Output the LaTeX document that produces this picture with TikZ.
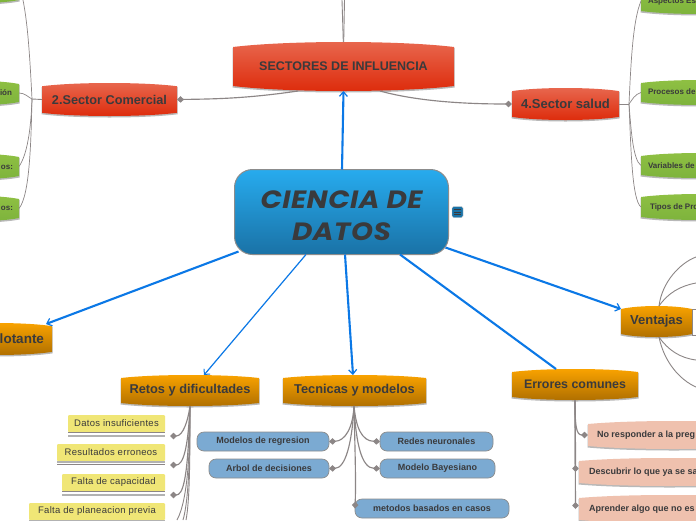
\documentclass[tikz,border=0pt]{standalone}
\usepackage{fontspec}
\setmainfont{Liberation Sans}
\newfontfamily\titlefont[FakeStretch=1.12,LetterSpace=2]{Poppins}
\usetikzlibrary{arrows.meta,calc}
\definecolor{linegray}{HTML}{8C8686}
\definecolor{inkgray}{HTML}{3A3A3C}
\definecolor{arrowblue}{HTML}{0B78E6}
\definecolor{pillblue}{HTML}{7BAAD2}
\definecolor{yellowfill}{HTML}{F0E676}
\definecolor{pinkfill}{HTML}{EFC1AE}
\definecolor{redT}{HTML}{E8684F}
\definecolor{redB}{HTML}{DD2A0A}
\definecolor{grnT}{HTML}{8FC043}
\definecolor{grnB}{HTML}{7DB33C}
\definecolor{orgT}{HTML}{FBA400}
\definecolor{orgB}{HTML}{AE6E00}
\definecolor{cenT}{HTML}{27ABEE}
\definecolor{cenB}{HTML}{1A72A6}
\tikzset{
  lbl/.style={inner sep=0pt,outer sep=0pt,text=inkgray,align=center},
  conn/.style={draw=linegray,line width=0.9pt},
  thin conn/.style={draw=linegray,line width=0.7pt},
  heavy conn/.style={draw=linegray,line width=1.15pt},
  main arrow/.style={draw=arrowblue,line width=2.1pt,-{Straight Barb[length=4.5pt,width=8pt,line width=1.2pt]}},
  dotend/.style={-{Diamond[length=7pt,width=6.5pt,fill=linegray]}}
}
% banner: name, x1,y1,x2,y2, top colour, bottom colour, fontsize, text
\newcommand{\banner}[9]{%
  \pgfmathsetmacro\bd{3+max(0,(#5-#3-31)/9)}%
  \pgfmathsetmacro\bc{\bd*4/3}%
  \pgfmathsetmacro\ba{#2+0.25*(#4-#2)}%
  \pgfmathsetmacro\bb{#4-0.25*(#4-#2)}%
  \fill[black!28] (#2-.5,#3+\bd+1) .. controls (\ba,#3+\bd-\bc+1) and (\bb,#3+\bd-\bc+1) .. (#4+.5,#3+\bd+1) -- (#4+.5,#5-\bd+1.5)
     .. controls (\bb,#5-\bd+\bc+1.5) and (\ba,#5-\bd+\bc+1.5) .. (#2-.5,#5-\bd+1.5) -- cycle;
  \shade[top color=#6,bottom color=#7] (#2,#3+\bd) .. controls (\ba,#3+\bd-\bc) and (\bb,#3+\bd-\bc) .. (#4,#3+\bd) -- (#4,#5-\bd)
     .. controls (\bb,#5-\bd+\bc) and (\ba,#5-\bd+\bc) .. (#2,#5-\bd) -- cycle;
  \node[lbl,minimum width={(#4-#2)*1pt},minimum height={(#5-#3)*1pt},font=\bfseries\fontsize{#8}{#8}\selectfont] (#1) at ({(#2+#4)/2},{(#3+#5)/2}) {#9};
}
% pill: name,x1,y1,x2,y2,text
\newcommand{\pill}[6]{%
  \node[lbl,draw=black!45,line width=.7pt,fill=pillblue,rounded corners=7pt,minimum width={(#4-#2)*1pt},minimum height={(#5-#3)*1pt},font=\bfseries\fontsize{9}{9}\selectfont] (#1) at ({(#2+#4)/2},{(#3+#5)/2}) {#6};
}
% yellow note: name x1 y1 x2 y2 text order
\newcommand{\yel}[7]{%
  \node[lbl,fill=yellowfill,rounded corners=1pt,minimum width={(#4-#2)*1pt},minimum height={(#5-#3)*1pt},font=\addfontfeature{LetterSpace=3}\fontsize{9.5}{9.5}\selectfont] (#1) at ({(#2+#4)/2},{(#3+#5)/2}) {#6};
  \draw[black!30,line width=1.4pt] (#2,#5+.8+3*#7) -- (#4,#5+.8+3*#7);
  \draw[linegray,line width=.8pt] (#2,#5+3.8-3*#7) -- (#4,#5+3.8-3*#7);
}
\begin{document}
\begin{tikzpicture}[x=1pt,y=-1pt]
\useasboundingbox (0,0) rectangle (696,520);
\clip (0,0) rectangle (696,520);
\fill[white] (0,0) rectangle (696,520);

% --- red sector nodes
\banner{sect}{233}{42}{454}{91}{redT}{redB}{12.5}{SECTORES DE INFLUENCIA}
\banner{com}{42}{83}{177}{116}{redT}{redB}{12.7}{2.Sector Comercial}
\banner{sal}{512}{88}{619}{120}{redT}{redB}{13}{4.Sector salud}

% --- green nodes
\banner{gl0}{-60}{-22}{19}{3}{grnT}{grnB}{8}{}
\banner{gl1}{-60}{81}{19}{105}{grnT}{grnB}{8}{}
\node[lbl,font=\bfseries\fontsize{8}{8}\selectfont,anchor=east] (gl1t) at (12,93) {ión};
\banner{gl2}{-60}{154}{19}{179}{grnT}{grnB}{8}{}
\node[lbl,font=\bfseries\fontsize{8}{8}\selectfont,anchor=east] (gl2t) at (13,167) {os:};
\banner{gl3}{-60}{196}{19}{221}{grnT}{grnB}{8}{}
\node[lbl,font=\bfseries\fontsize{8}{8}\selectfont,anchor=east] (gl3t) at (13,208) {os:};
\banner{gr0}{641}{-12}{760}{14}{grnT}{grnB}{8}{}
\node[lbl,font=\bfseries\fontsize{8}{8}\selectfont,anchor=west] (gr0t) at (648,2) {Aspectos Es};
\banner{gr1}{641}{80}{760}{105}{grnT}{grnB}{8}{}
\node[lbl,font=\bfseries\fontsize{8}{8}\selectfont,anchor=west] (gr1t) at (648,92) {Procesos de};
\banner{gr2}{641}{153}{760}{178}{grnT}{grnB}{8}{}
\node[lbl,font=\bfseries\fontsize{8}{8}\selectfont,anchor=west] (gr2t) at (648,166) {Variables de};
\banner{gr3}{641}{194}{760}{220}{grnT}{grnB}{8}{}
\node[lbl,font=\bfseries\fontsize{8}{8}\selectfont,anchor=west] (gr3t) at (650,207) {Tipos de Pro};

% --- central node
\node[draw=black!45,line width=1pt,rounded corners=18pt,minimum width=214pt,minimum height=85pt,inner sep=0pt,outer sep=0pt,
  top color=cenT,bottom color=cenB] (center) at (341.5,212) {};
\node[lbl,font=\titlefont\bfseries\itshape\fontsize{25}{32}\selectfont] (ctext) at (341.5,216) {CIENCIA DE\\DATOS};
\node[draw=black!20,fill=cenB,rounded corners=1.5pt,minimum size=11pt,inner sep=0pt] (note) at (457.5,212) {};
\draw[inkgray,line width=.8pt] (454,209.5) -- (461,209.5) (454,212) -- (461,212) (454,214.5) -- (461,214.5);

% --- orange nodes
\banner{flot}{-60}{323}{52}{355}{orgT}{orgB}{13.5}{}
\node[lbl,font=\bfseries\fontsize{13.5}{13.5}\selectfont,anchor=east] (flott) at (44,339) {flotante};
\banner{ret}{121}{375}{259}{406}{orgT}{orgB}{12.8}{Retos y dificultades}
\banner{tec}{283}{375}{426}{406}{orgT}{orgB}{12.8}{Tecnicas y modelos}
\banner{err}{512}{369}{638}{400}{orgT}{orgB}{12.4}{Errores comunes}
\banner{ven}{621}{306}{692}{337}{orgT}{orgB}{13}{Ventajas}

% --- blue pills
\pill{m1}{197}{432}{329}{451}{Modelos de regresion}
\pill{m2}{209}{459}{329}{478}{Arbol de decisiones}
\pill{m3}{380}{432}{493}{451}{Redes neuronales}
\pill{m4}{380}{459}{495}{478}{Modelo Bayesiano}
\pill{m5}{355}{499}{509}{518}{metodos basados en casos}

% --- yellow notes
\yel{y1}{68}{415}{165}{432}{Datos insuficientes}{1}
\yel{y2}{57}{444}{165}{461}{Resultados erroneos}{0}
\yel{y3}{62}{474}{165}{491}{Falta de capacidad}{1}
\yel{y4}{29}{503}{165}{520}{Falta de planeacion previa}{0}

% --- pink nodes
\banner{p1}{588}{421}{760}{449}{pinkfill}{pinkfill}{9}{}
\node[lbl,font=\bfseries\fontsize{9}{9}\selectfont,anchor=west] (p1t) at (597,435) {No responder a la preg};
\banner{p2}{579}{458}{760}{486}{pinkfill}{pinkfill}{9}{}
\node[lbl,font=\bfseries\fontsize{9}{9}\selectfont,anchor=west] (p2t) at (589,472) {Descubrir lo que ya se sa};
\banner{p3}{579}{495}{760}{523}{pinkfill}{pinkfill}{9}{}
\node[lbl,font=\bfseries\fontsize{9}{9}\selectfont,anchor=west] (p3t) at (589,509) {Aprender algo que no es};

% --- main arrows
\draw[main arrow] ($(center.north)+(0.5,0)$) -- (sect.south);
\draw[main arrow] ($(center.south west)+(4,-3)$) -- ($(flot.north east)+(-6,1)$);
\draw[draw=arrowblue,line width=1.2pt,-{Straight Barb[length=4pt,width=8pt,line width=1pt]}] ($(center.south)+(-35.5,0)$) -- ($(ret.north)+(14,0)$);
\draw[main arrow] ($(center.south)+(3.5,0)$) -- ($(tec.north)+(-1.5,0)$);
\draw[draw=arrowblue,line width=2.1pt] ($(center.south)+(58.5,0)$) -- ($(err.north)+(-19,0)$);
\draw[main arrow] ($(center.south east)+(-3,-7)$) -- ($(ven.north west)+(0,3)$);

% --- sector connectors
\coordinate (sl) at (298,91); \coordinate (sr) at (380,91);
\draw[heavy conn,dotend] (sl) .. controls (250,98) and (220,99) .. (com.east);
\draw[heavy conn,dotend] (sr) .. controls (420,102) and (470,104) .. (sal.west);
\coordinate (sa) at (342,0); \coordinate (sb) at (344.5,0);
\draw[conn] (sa) -- ($(sect.north)+(-.2,0)$); \draw[conn] (sb) -- ($(sect.north)+(.2,0)$);

% --- left bundle
\coordinate (lj) at (32,99);
\coordinate (ltop) at (23,0);
\draw[conn] (com.west) -- (lj);
\draw[thin conn] (lj) .. controls (30,60) and (28,25) .. (ltop);
\draw[thin conn] (lj) .. controls (28,97) and (25,93) .. (gl1.east);
\draw[thin conn] (lj) .. controls (31,130) and (27,155) .. (gl2.east);
\draw[thin conn] (lj) .. controls (31,140) and (30,195) .. (gl3.east);

% --- right bundle
\coordinate (rj) at (629,104);
\draw[conn] (sal.east) -- (rj);
\draw[thin conn] (rj) .. controls (631,60) and (633,20) .. (gr0.west);
\draw[thin conn] (rj) .. controls (632,100) and (635,94) .. (gr1.west);
\draw[thin conn] (rj) .. controls (631,130) and (633,160) .. (gr2.west);
\draw[thin conn] (rj) .. controls (631,150) and (632,200) .. (gr3.west);

% --- ventajas fans
\coordinate (vt) at (659,306); \coordinate (vb) at (659,337);
\coordinate (v1) at (696,257); \coordinate (v2) at (696,283);
\coordinate (v3) at (696,360); \coordinate (v4) at (696,387);
\coordinate (vr1) at (696,309); \coordinate (vr2) at (696,335);
\draw[conn] (vt) .. controls (662,282) and (680,263) .. (v1);
\draw[conn] (vt) .. controls (668,293) and (680,286) .. (v2);
\draw[conn] (vb) .. controls (668,350) and (680,358) .. (v3);
\draw[conn] (vb) .. controls (664,362) and (680,380) .. (v4);
\draw[conn] (vr1) -- (ven.north east |- vr1) -- (ven.south east |- vr2) -- (vr2);

% --- retos
\coordinate (rt) at ($(ret.south)+(0,0)$);
\coordinate (re1) at (170,436); \coordinate (re2) at (170,465); \coordinate (re3) at (170,495);
\draw[heavy conn,dotend] (rt) .. controls (188,421) and (183,436) .. (re1);
\draw[heavy conn,dotend] (rt) .. controls (188,450) and (183,465) .. (re2);
\draw[heavy conn,dotend] (rt) .. controls (188,480) and (183,495) .. (re3);
\coordinate (re4) at (177,520); \coordinate (re5) at (183,520); \coordinate (re6) at (186,520);
\draw[conn] (rt) .. controls (190,450) and (188,500) .. (re4);
\draw[conn] (rt) .. controls (190,450) and (189,500) .. (re5);
\draw[conn] (rt) .. controls (190,450) and (190,500) .. (re6);

% --- tecnicas
\coordinate (tt) at ($(tec.south)+(-.5,0)$);
\draw[heavy conn,dotend] (tt) .. controls (353,428) and (345,441) .. (m1.east);
\draw[heavy conn,dotend] (tt) .. controls (352,445) and (345,468) .. (m2.east);
\draw[heavy conn,dotend] (tt) .. controls (356,428) and (362,441) .. (m3.west);
\draw[heavy conn,dotend] (tt) .. controls (356,445) and (362,468) .. (m4.west);
\draw[heavy conn,dotend] (tt) .. controls (355,450) and (356,480) .. (m5.west);

% --- errores
\coordinate (et) at (575,400);
\coordinate (e2) at (575.5,472); \coordinate (e3) at (575.5,509);
\draw[heavy conn,dotend] (et) .. controls (575,425) and (576,435) .. (p1.west);
\draw[conn,line width=1.4pt,dotend] (et) -- (e2);
\draw[heavy conn,dotend] (et) -- (e3);
\end{tikzpicture}
\end{document}
